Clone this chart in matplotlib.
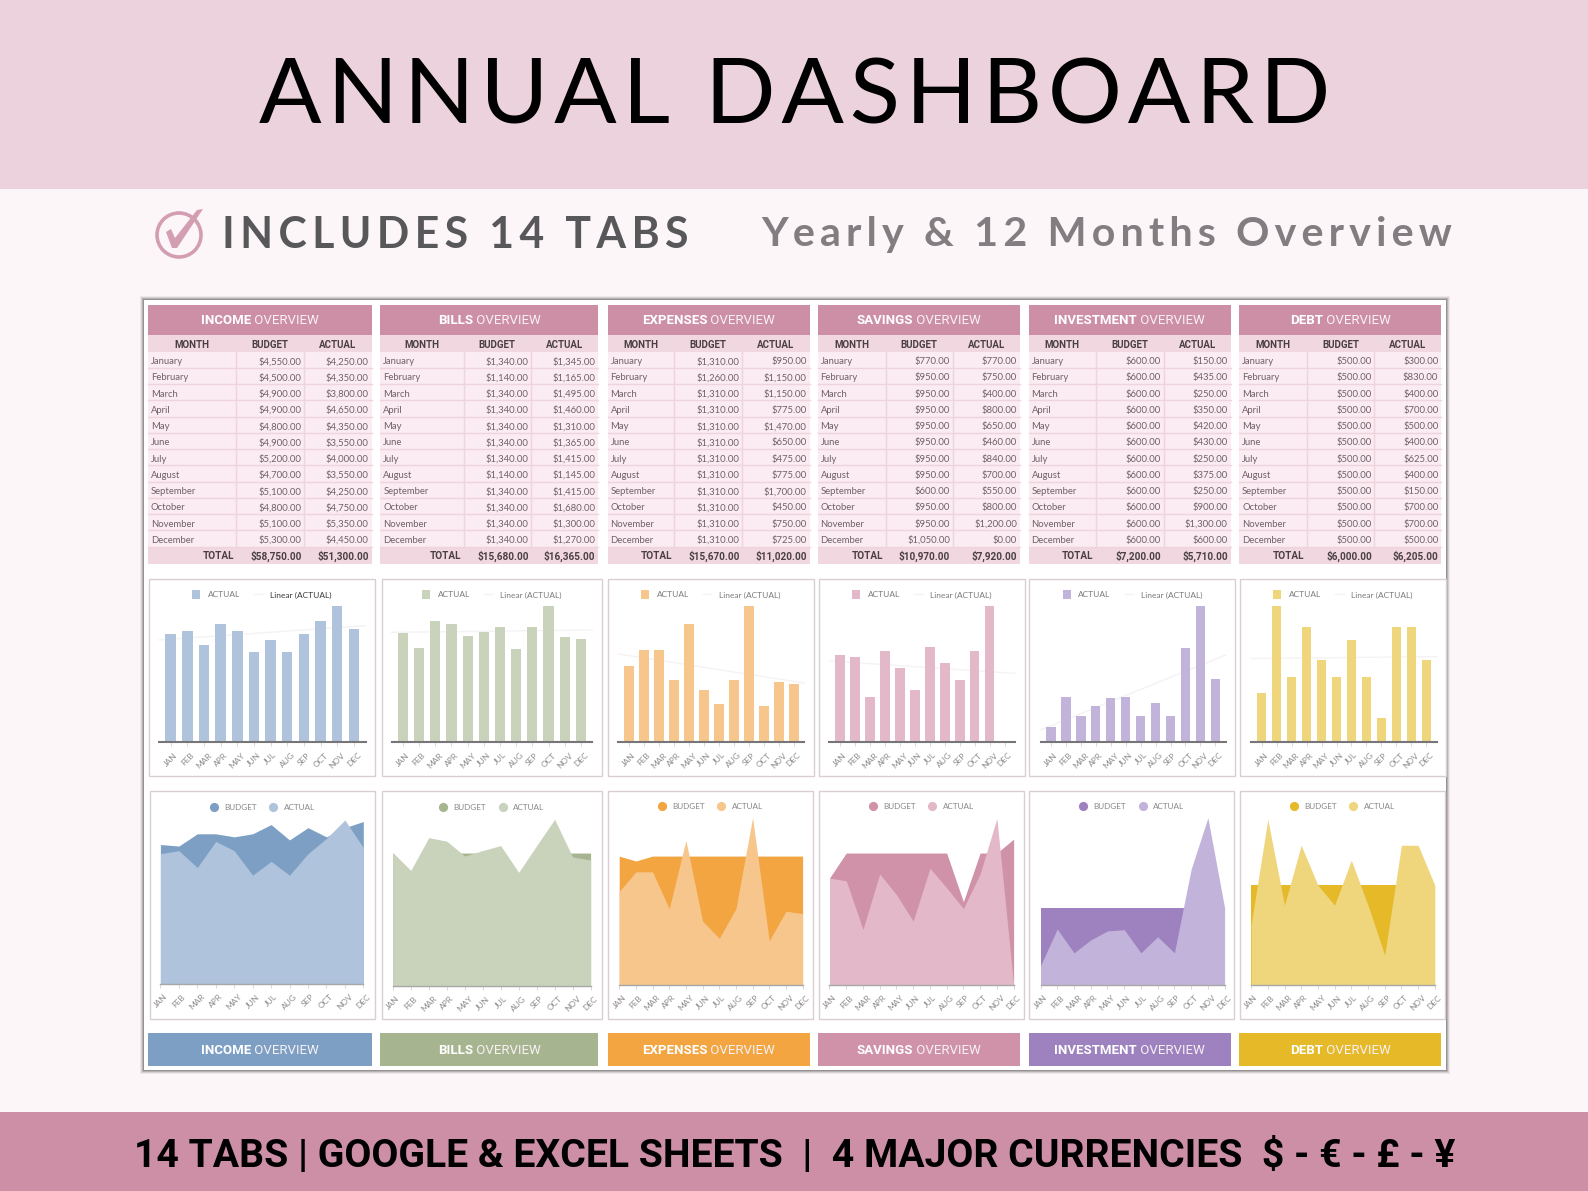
#!/usr/bin/env python3
"""Annual dashboard sheet: six overview tables, bar charts and area charts."""

import matplotlib
matplotlib.use("Agg")
import matplotlib.pyplot as plt
from matplotlib.lines import Line2D
from matplotlib.patches import Circle, Polygon, Rectangle

W, H = 1588, 1191

# ── Data ─────────────────────────────────────────────────────────
MONTHS = ["January", "February", "March", "April", "May", "June", "July",
          "August", "September", "October", "November", "December"]
MONTH_TICKS = ["JAN", "FEB", "MAR", "APR", "MAY", "JUN", "JUL", "AUG", "SEP", "OCT", "NOV", "DEC"]
NAMES = ["INCOME", "BILLS", "EXPENSES", "SAVINGS", "INVESTMENT", "DEBT"]

income_budget = [4550, 4500, 4900, 4900, 4800, 4900, 5200, 4700, 5100, 4800, 5100, 5300]
income_actual = [4250, 4350, 3800, 4650, 4350, 3550, 4000, 3550, 4250, 4750, 5350, 4450]
bills_budget = [1340, 1140, 1340, 1340, 1340, 1340, 1340, 1140, 1340, 1340, 1340, 1340]
bills_actual = [1345, 1165, 1495, 1460, 1310, 1365, 1415, 1145, 1415, 1680, 1300, 1270]
expenses_budget = [1310, 1260, 1310, 1310, 1310, 1310, 1310, 1310, 1310, 1310, 1310, 1310]
expenses_actual = [950, 1150, 1150, 775, 1470, 650, 475, 775, 1700, 450, 750, 725]
savings_budget = [770, 950, 950, 950, 950, 950, 950, 950, 600, 950, 950, 1050]
savings_actual = [770, 750, 400, 800, 650, 460, 840, 700, 550, 800, 1200, 0]
investment_budget = [600, 600, 600, 600, 600, 600, 600, 600, 600, 600, 600, 600]
investment_actual = [150, 435, 250, 350, 420, 430, 250, 375, 250, 900, 1300, 600]
debt_budget = [500, 500, 500, 500, 500, 500, 500, 500, 500, 500, 500, 500]
debt_actual = [300, 830, 400, 700, 500, 400, 625, 400, 150, 700, 700, 500]

BUDGETS = [income_budget, bills_budget, expenses_budget, savings_budget, investment_budget, debt_budget]
ACTUALS = [income_actual, bills_actual, expenses_actual, savings_actual, investment_actual, debt_actual]
total_budget = ["$58,750.00", "$15,680.00", "$15,670.00", "$10,970.00", "$7,200.00", "$6,000.00"]
total_actual = ["$51,300.00", "$16,365.00", "$11,020.00", "$7,920.00", "$5,710.00", "$6,205.00"]

# trendline ends
trend_start = [4016, 1355, 1103, 716, 118, 510]
trend_end = [4578, 1384, 739, 607, 833, 522]

# ── Styling ──────────────────────────────────────────────────────
PAGE_BG = "#fcf6f9"
TOP_BAND = "#ebd2dc"
ROSE = "#cd8fa6"
ROW_BG = "#fbebf2"
HEAD_BG = "#f1d7e0"
ROW_LINE = "#efd3dd"
BODY_TEXT = "#6e6266"
DARK_COLORS = ["#7e9fc4", "#a6b58f", "#f2a541", "#cf92a8", "#9d82bf", "#e5b927"]
LIGHT_COLORS = ["#afc3dc", "#c9d3bc", "#f6c68c", "#e3b9c9", "#c2b3da", "#efd67c"]
FONT = ["Lato", "DejaVu Sans"]
HEAD_FONT = ["Roboto", "DejaVu Sans"]

# table and tile columns: left, first divider, second divider, right
TABLE_X = [(147.8, 236.3, 304.4, 371.6), (380.2, 463.5, 531.0, 598.4),
           (607.5, 674.3, 741.9, 809.6), (817.5, 885.5, 952.6, 1020.2),
           (1028.5, 1095.7, 1163.6, 1230.8), (1239.1, 1306.7, 1374.3, 1441.4)]
BAR_PANEL_X = [(148.7, 375), (381.5, 601.8), (607.9, 813.5), (819.1, 1024.8), (1029.3, 1235.4), (1240, 1445.6)]
BAR_PLOT_X = [(159, 365.5), (391.5, 592.3), (618.3, 804.3), (829.5, 1015.2), (1040.5, 1225.8), (1251.1, 1436.9)]
AREA_PANEL_X = [(149.5, 375), (381.5, 601.8), (607.9, 812.6), (819, 1023.5), (1029.3, 1234), (1240, 1444.7)]
AREA_PLOT_X = [(160.4, 363.3), (392.8, 590.6), (619.2, 802.6), (829.5, 1013.6), (1040.5, 1224.6), (1251.1, 1434.8)]
AREA_BASE_Y = [984, 986, 985, 985, 985, 985]
AREA_TOP_Y = [820, 819.3, 817.7, 818.3, 817.7, 819.3]
AREA_LEGEND_Y = [807.3, 807.3, 806.3, 806.3, 806.3, 806.3]

plt.rcParams.update({"font.family": FONT, "axes.unicode_minus": False})

fig = plt.figure(figsize=(W / 100, H / 100), dpi=100, facecolor=PAGE_BG)
bg = fig.add_axes([0, 0, 1, 1])
bg.set_xlim(0, W)
bg.set_ylim(H, 0)
bg.axis("off")
renderer = fig.canvas.get_renderer()


def box(x0, y0, x1, y1, color, edge="none", lw=0, alpha=None, z=1):
    bg.add_patch(Rectangle((x0, y0), x1 - x0, y1 - y0, facecolor=color, edgecolor=edge,
                           linewidth=lw, alpha=alpha, zorder=z))


def spaced(text, gap):
    return gap.join(text)


def two_tone(cx, cy, bold, rest, size=9.5):
    """Centered 'BOLD regular' heading in white."""
    a = bg.text(0, cy, bold, color="white", fontsize=size, fontweight="bold",
                family=HEAD_FONT, va="center_baseline", ha="left", zorder=6)
    b = bg.text(0, cy, " " + rest, color="#f8f1f4", fontsize=size, family=HEAD_FONT,
                va="center_baseline", ha="left", zorder=6)
    wa = a.get_window_extent(renderer).width
    wb = b.get_window_extent(renderer).width
    a.set_x(cx - (wa + wb) / 2)
    b.set_x(cx - (wa + wb) / 2 + wa)


def px_axes(x0, x1, y_top, y_bottom):
    ax = fig.add_axes([x0 / W, 1 - y_bottom / H, (x1 - x0) / W, (y_bottom - y_top) / H], zorder=5)
    ax.patch.set_alpha(0)
    for side in ("top", "left", "right"):
        ax.spines[side].set_visible(False)
    ax.set_yticks([])
    return ax


def style_xaxis(ax, spine_color, spine_lw):
    ax.spines["bottom"].set_color(spine_color)
    ax.spines["bottom"].set_linewidth(spine_lw)
    ax.set_xticks(range(12))
    ax.set_xticklabels(MONTH_TICKS, rotation=45, ha="center", rotation_mode="default",
                       fontsize=6, color="#8e8a8c")
    ax.tick_params(axis="x", length=3, width=0.6, color="#d4d0d2", pad=3.5)


# ── Page frame ───────────────────────────────────────────────────
box(0, 0, W, 189.3, TOP_BAND)
box(0, 1111.5, W, H, ROSE)
bg.text(795, 123.3, spaced("ANNUAL DASHBOARD", "\u200a"), fontsize=66.6, family=FONT,
        color="black", ha="center", va="baseline")
bg.text(795, 1167, "14 TABS | GOOGLE & EXCEL SHEETS  |  4 MAJOR CURRENCIES  $ - € - £ - ¥",
        fontsize=28.2, family=HEAD_FONT, fontweight="bold", color="black", ha="center", va="baseline")

# check mark and sub headings
bg.add_patch(Circle((179, 235), 22, facecolor="none", edgecolor="#d39db2", linewidth=2.6, zorder=3))
bg.add_patch(Polygon([(166, 232), (171, 229), (175, 238), (197, 210), (203, 209), (177, 248), (172, 248)],
                     closed=True, facecolor="#d39db2", edgecolor="none", zorder=4))
bg.text(222.5, 248, spaced("INCLUDES 14 TABS", "\u2009"), fontsize=30.8, fontweight="bold",
        color="#58585a", ha="left", va="baseline")
bg.text(761, 246, spaced("Yearly & 12 Months Overview", "\u2009"), fontsize=29.7, fontweight="bold",
        color="#837c80", ha="left", va="baseline")

# dashboard sheet with a soft shadow
for grow, alpha in [(4, 0.10), (3, 0.18), (2, 0.30), (1, 0.45)]:
    box(144 - grow, 300 - grow, 1446 + grow, 1070 + grow, "#6e6a6c", alpha=alpha, z=1)
box(144, 300, 1446, 1070, "white", z=1.5)

# ── Tables ───────────────────────────────────────────────────────
Y_TOP, Y_HEAD, Y_COLS, Y_ROWS_END, Y_END = 304.5, 335, 351.7, 546.7, 563.7
ROW_H = (Y_ROWS_END - Y_COLS) / 12

for i, name in enumerate(NAMES):
    x0, d1, d2, x1 = TABLE_X[i]
    box(x0, Y_TOP, x1, Y_HEAD, ROSE, z=2)
    two_tone((x0 + x1) / 2, (Y_TOP + Y_HEAD) / 2 - 1.2, name, "OVERVIEW")
    box(x0, Y_HEAD, x1, Y_COLS, HEAD_BG, z=2)
    box(x0, Y_COLS, x1, Y_ROWS_END, ROW_BG, z=2)
    box(x0, Y_ROWS_END, x1, Y_END, HEAD_BG, z=2)

    for label, cx in [("MONTH", (x0 + d1) / 2), ("BUDGET", (d1 + d2) / 2), ("ACTUAL", (d2 + x1) / 2)]:
        bg.text(cx, (Y_HEAD + Y_COLS) / 2 + 0.5, label, fontsize=7, fontweight="bold", family=HEAD_FONT,
                color="#4a4044", ha="center", va="center_baseline", zorder=6)

    for r in range(12):
        y = Y_COLS + ROW_H * (r + 0.5) + 0.8
        bg.plot([x0, x1], [Y_COLS + ROW_H * (r + 1)] * 2, color=ROW_LINE, lw=1, zorder=3)
        bg.text(x0 + 3, y, MONTHS[r], fontsize=6.8, color=BODY_TEXT, ha="left", va="center_baseline", zorder=6)
        bg.text(d2 - 2.5, y, f"${BUDGETS[i][r]:,.2f}", fontsize=6.8, color=BODY_TEXT,
                ha="right", va="center_baseline", zorder=6)
        bg.text(x1 - 3, y, f"${ACTUALS[i][r]:,.2f}", fontsize=6.8, color=BODY_TEXT,
                ha="right", va="center_baseline", zorder=6)
    for d in (d1, d2):
        bg.plot([d, d], [Y_COLS, Y_ROWS_END], color=ROW_LINE, lw=1, zorder=3)

    y = (Y_ROWS_END + Y_END) / 2
    for text, right in [("TOTAL", d1 - 2), (total_budget[i], d2 - 2.5), (total_actual[i], x1 - 3)]:
        bg.text(right, y, text, fontsize=7.2, fontweight="bold", family=HEAD_FONT, color="#4a4044",
                ha="right", va="center_baseline", zorder=6)

    # footer tile
    box(x0, 1033.3, x1, 1066, DARK_COLORS[i], z=2)
    two_tone((x0 + x1) / 2, 1048.8, name, "OVERVIEW")

bg.set_xlim(0, W)
bg.set_ylim(H, 0)

# ── Bar charts ───────────────────────────────────────────────────
for i, actual in enumerate(ACTUALS):
    px0, px1 = BAR_PANEL_X[i]
    box(px0, 579.3, px1, 776, "white", edge="#d8ced3", lw=1.0, z=2)

    ax = px_axes(BAR_PLOT_X[i][0], BAR_PLOT_X[i][1], 606, 742.3)
    bars = ax.bar(range(12), actual, 0.63, color=LIGHT_COLORS[i], label="ACTUAL")
    ax.set_xlim(-0.7, 11.7)
    ax.set_ylim(0, max(actual))
    trend, = ax.plot([-0.7, 11.7], [trend_start[i], trend_end[i]], color="#f5f2f3", lw=1,
                     label="Linear (ACTUAL)", clip_on=False, zorder=0.5)
    style_xaxis(ax, "#777577", 1.5)
    leg = ax.legend(handles=[bars, trend], loc="center", ncol=2, frameon=False, fontsize=6,
                    bbox_to_anchor=((px0 + px1) / 2, 594.7), bbox_transform=bg.transData,
                    handlelength=1.0, handleheight=1.3, handletextpad=0.9, columnspacing=1.7,
                    labelcolor="#7d797b", borderpad=0)
    if i == 0:
        leg.get_texts()[1].set_color("#3c3a3b")

# ── Area charts ──────────────────────────────────────────────────
for i, (budget, actual) in enumerate(zip(BUDGETS, ACTUALS)):
    px0, px1 = AREA_PANEL_X[i]
    box(px0, 791, px1, 1019.3, "white", edge="#d8ced3", lw=1.0, z=2)

    ax = px_axes(AREA_PLOT_X[i][0], AREA_PLOT_X[i][1], AREA_TOP_Y[i], AREA_BASE_Y[i])
    ax.fill_between(range(12), 0, budget, color=DARK_COLORS[i], linewidth=0)
    ax.fill_between(range(12), 0, actual, color=LIGHT_COLORS[i], linewidth=0)
    ax.set_xlim(0, 11)
    ax.set_ylim(0, max(max(budget), max(actual)))
    style_xaxis(ax, "#a9a6a8", 1.0)
    handles = [Line2D([], [], ls="none", marker="o", ms=6.6, mew=0, color=DARK_COLORS[i], label="BUDGET"),
               Line2D([], [], ls="none", marker="o", ms=6.6, mew=0, color=LIGHT_COLORS[i], label="ACTUAL")]
    ax.legend(handles=handles, loc="center", ncol=2, frameon=False, fontsize=5.9,
              bbox_to_anchor=((px0 + px1) / 2, AREA_LEGEND_Y[i]), bbox_transform=bg.transData,
              handlelength=1.0, handletextpad=0.8, columnspacing=1.5, labelcolor="#8b8789", borderpad=0)

fig.savefig("out.png", dpi=100, facecolor=PAGE_BG)
